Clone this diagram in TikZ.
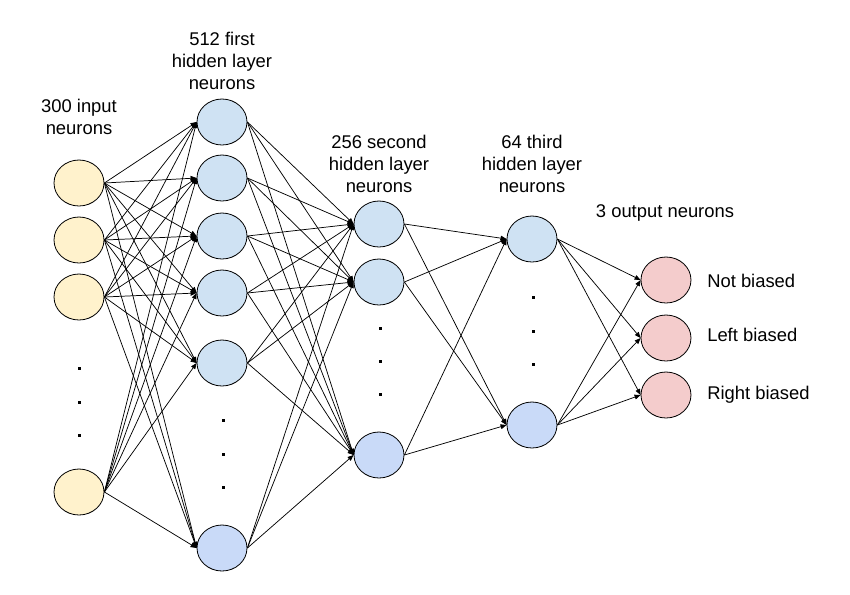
\documentclass[tikz,border=0pt]{standalone}
\usepackage{fontspec}
\setmainfont{Liberation Sans}
\usetikzlibrary{shapes.geometric,arrows.meta}
\definecolor{inyellow}{HTML}{FFF2CC}
\definecolor{hidblue}{HTML}{CFE2F3}
\definecolor{lastblue}{HTML}{C9DAF8}
\definecolor{outpink}{HTML}{F4CCCC}
\tikzset{
  neuron/.style={ellipse, draw=black, line width=0.6pt, minimum width=37.5pt, minimum height=34.5pt, inner sep=0pt},
  link/.style={-{Triangle[length=4.5pt,width=3.6pt]}, line width=0.55pt},
  caption/.style={align=center, font=\fontsize{13.8}{16.5}\selectfont, inner sep=0pt},
}
\begin{document}
\begin{tikzpicture}[x=0.75pt, y=-0.75pt]
  \useasboundingbox (0,0) rectangle (850,594);

  \node[caption] (tin) at (79,117) {300 input\\neurons};
  \node[caption] (ta) at (222,61) {512 first\\hidden layer\\neurons};
  \node[caption] (tb) at (379,164) {256 second\\hidden layer\\neurons};
  \node[caption] (tc) at (532,164) {64 third\\hidden layer\\neurons};
  \node[caption] (tout) at (665,213) {3 output neurons};

  \node[neuron, fill=inyellow] (i1) at (79,183) {};
  \node[neuron, fill=inyellow] (i2) at (79,240) {};
  \node[neuron, fill=inyellow] (i3) at (79,297) {};
  \node[neuron, fill=inyellow] (i4) at (79,492) {};

  \node[neuron, fill=hidblue] (a1) at (222,122) {};
  \node[neuron, fill=hidblue] (a2) at (222,178) {};
  \node[neuron, fill=hidblue] (a3) at (222,236) {};
  \node[neuron, fill=hidblue] (a4) at (222,293) {};
  \node[neuron, fill=hidblue] (a5) at (222,363) {};
  \node[neuron, fill=lastblue] (a6) at (222,548) {};

  \node[neuron, fill=hidblue] (b1) at (379,224) {};
  \node[neuron, fill=hidblue] (b2) at (379,282) {};
  \node[neuron, fill=lastblue] (b3) at (379,455) {};

  \node[neuron, fill=hidblue] (c1) at (532,239) {};
  \node[neuron, fill=lastblue] (c2) at (532,425) {};

  \node[neuron, fill=outpink] (o1) at (666,280) {};
  \node[neuron, fill=outpink] (o2) at (666,338) {};
  \node[neuron, fill=outpink] (o3) at (666,395) {};

  \node[caption, anchor=base west] (l1) at (707,287) {Not biased};
  \node[caption, anchor=base west] (l2) at (707,341) {Left biased};
  \node[caption, anchor=base west] (l3) at (707,399) {Right biased};

  \foreach \y in {368,402,435} \fill (77.5,\y-1.5) rectangle ++(3,3);
  \foreach \y in {420,454,487} \fill (221.5,\y-1.5) rectangle ++(3,3);
  \foreach \y in {328,361,394} \fill (378.5,\y-1.5) rectangle ++(3,3);
  \foreach \y in {297,331,364} \fill (531.5,\y-1.5) rectangle ++(3,3);

  \foreach \s in {1,...,4}
    \foreach \t in {1,...,6}
      \draw[link] (i\s.east) -- (a\t.west);
  \foreach \s in {1,...,6}
    \foreach \t in {1,2,3}
      \draw[link] (a\s.east) -- (b\t.west);
  \foreach \s in {1,2,3}
    \foreach \t in {1,2}
      \draw[link] (b\s.east) -- (c\t.west);
  \foreach \s in {1,2}
    \foreach \t in {1,2,3}
      \draw[link] (c\s.east) -- (o\t.west);
\end{tikzpicture}
\end{document}
